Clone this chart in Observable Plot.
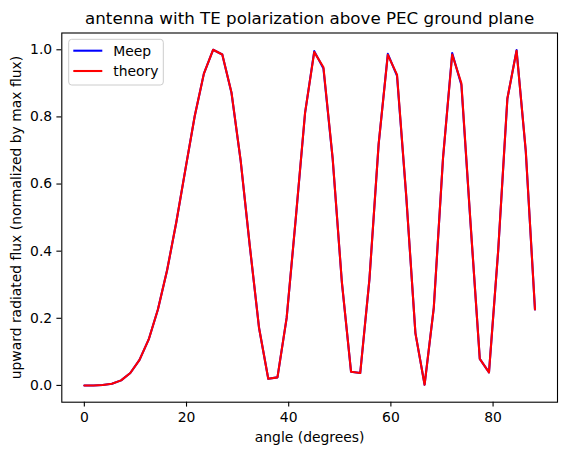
<!DOCTYPE html>
<html>
<head>
<meta charset="utf-8">
<script src="https://cdn.jsdelivr.net/npm/d3@7"></script>
<script src="https://cdn.jsdelivr.net/npm/@observablehq/plot@0.6"></script>
<style>
  body { margin: 0; background: white; }
  #chart svg { display: block; font-family: "DejaVu Sans", sans-serif; }
</style>
</head>
<body>
<div id="chart"></div>
<script>
// angles (degrees)
const angles = [
  0, 1.8, 3.6, 5.4, 7.2, 9, 10.8, 12.6, 14.4, 16.2,
  18, 19.8, 21.6, 23.4, 25.2, 27, 28.8, 30.6, 32.4, 34.2,
  36, 37.8, 39.6, 41.4, 43.2, 45, 46.8, 48.6, 50.4, 52.2,
  54, 55.8, 57.6, 59.4, 61.2, 63, 64.8, 66.6, 68.4, 70.2,
  72, 73.8, 75.6, 77.4, 79.2, 81, 82.8, 84.6, 86.4, 88.2
];
// normalized upward flux, Meep simulation
const meepFlux = [
  0.000, 0.000, 0.001, 0.005, 0.015, 0.037, 0.076, 0.137, 0.226, 0.343,
  0.486, 0.645, 0.802, 0.929, 1.000, 0.986, 0.872, 0.669, 0.413, 0.171,
  0.020, 0.024, 0.201, 0.500, 0.811, 0.996, 0.944, 0.676, 0.308, 0.041,
  0.037, 0.316, 0.718, 0.988, 0.922, 0.564, 0.156, 0.002, 0.232, 0.676,
  0.990, 0.895, 0.480, 0.079, 0.039, 0.401, 0.854, 0.999, 0.697, 0.226
];
// normalized upward flux, theory
const theoryFlux = [
  0.000, 0.000, 0.001, 0.005, 0.015, 0.037, 0.076, 0.137, 0.226, 0.343,
  0.486, 0.645, 0.802, 0.929, 1.000, 0.986, 0.873, 0.670, 0.414, 0.171,
  0.020, 0.024, 0.201, 0.501, 0.812, 0.993, 0.948, 0.678, 0.309, 0.041,
  0.037, 0.316, 0.719, 0.985, 0.926, 0.566, 0.156, 0.002, 0.232, 0.677,
  0.986, 0.900, 0.482, 0.079, 0.039, 0.402, 0.855, 0.997, 0.700, 0.226
];
const xTicks = [0, 20, 40, 60, 80];
const yTicks = [0, 0.2, 0.4, 0.6, 0.8, 1.0];
const seriesNames = ["Meep", "theory"];
const seriesColors = ["#0000ff", "#ff0000"];

const titleText = "antenna with TE polarization above PEC ground plane";
const xLabel = "angle (degrees)";
const yLabel = "upward radiated flux (normalized by max flux)";

const meepRows = angles.map((a, i) => ({angle: a, flux: meepFlux[i]}));
const theoryRows = angles.map((a, i) => ({angle: a, flux: theoryFlux[i]}));

const font = "'DejaVu Sans', sans-serif";
const fs = 13.9;   // 10pt
const titleFs = 16.7; // 12pt

const chart = Plot.plot({
  width: 567,
  height: 455,
  marginLeft: 61.3,
  marginRight: 10,
  marginTop: 32.5,
  marginBottom: 53.3,
  style: {fontFamily: font, fontSize: fs + "px", background: "white", color: "black"},
  x: {domain: [-4.41, 92.61]},
  y: {domain: [-0.05, 1.05]},
  marks: [
    Plot.axisX({ticks: xTicks, tickSize: 4.9, tickPadding: 5.5, label: null, fontSize: fs, fontFamily: font, strokeWidth: 1.1}),
    Plot.axisY({ticks: yTicks, tickFormat: d3.format(".1f"), tickSize: 4.9, tickPadding: 4.7, label: null, fontSize: fs, fontFamily: font, strokeWidth: 1.1}),
    Plot.line(meepRows, {x: "angle", y: "flux", stroke: seriesColors[0], strokeWidth: 2.08}),
    Plot.line(theoryRows, {x: "angle", y: "flux", stroke: seriesColors[1], strokeWidth: 2.08}),
    Plot.frame({stroke: "black", strokeWidth: 1.1}),
    Plot.text([titleText], {frameAnchor: "top", lineAnchor: "middle", dy: -14, fontSize: titleFs, fontFamily: font}),
    Plot.text([xLabel], {frameAnchor: "bottom", lineAnchor: "middle", dy: 35.5, fontSize: fs, fontFamily: font}),
    Plot.text([yLabel], {frameAnchor: "left", textAnchor: "middle", lineAnchor: "middle", dx: -45, rotate: -90, fontSize: fs, fontFamily: font})
  ]
});

// matplotlib-like legend in the upper left corner
const legend = d3.select(chart).append("g")
  .attr("font-family", font)
  .attr("font-size", fs)
  .attr("text-anchor", "start");
legend.append("rect")
  .attr("x", 68.7).attr("y", 39.3)
  .attr("width", 94.6).attr("height", 45.7)
  .attr("rx", 3)
  .attr("fill", "white").attr("fill-opacity", 0.8)
  .attr("stroke", "#cccccc");
seriesNames.forEach((name, i) => {
  const y = 50.7 + i * 20.3;
  legend.append("line")
    .attr("x1", 73.3).attr("x2", 102.3)
    .attr("y1", y).attr("y2", y)
    .attr("stroke", seriesColors[i]).attr("stroke-width", 2.08);
  legend.append("text")
    .attr("x", 113.3).attr("y", y)
    .attr("dy", "0.35em")
    .attr("fill", "black")
    .text(name);
});

document.getElementById("chart").append(chart);
</script>
</body>
</html>
